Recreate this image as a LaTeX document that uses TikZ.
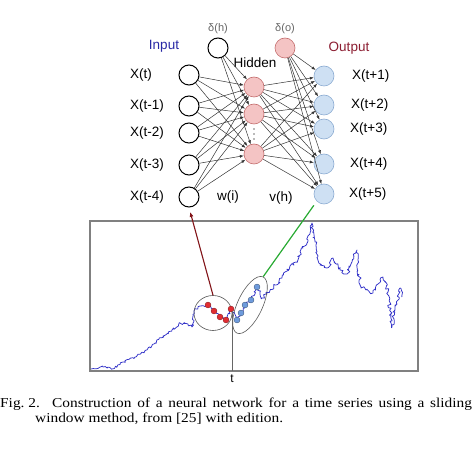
\documentclass[tikz,border=0pt]{standalone}
\usepackage{fontspec}
\setmainfont{Liberation Serif}
\setsansfont{Liberation Sans}
\usepackage{tikz}
\usetikzlibrary{arrows.meta, positioning, shapes.geometric, decorations.pathmorphing}

\definecolor{hidfill}{RGB}{244,196,196}
\definecolor{hiddraw}{RGB}{196,110,110}
\definecolor{outfill}{RGB}{206,224,243}
\definecolor{outdraw}{RGB}{140,172,210}
\definecolor{inblue}{RGB}{40,40,165}
\definecolor{outred}{RGB}{140,30,50}
\definecolor{serieblue}{RGB}{50,50,200}
\definecolor{arrred}{RGB}{130,20,25}
\definecolor{arrgreen}{RGB}{40,170,50}
\definecolor{dotred}{RGB}{225,45,50}
\definecolor{dotblue}{RGB}{110,155,220}

\begin{document}
\begin{tikzpicture}[
  x=1pt, y=-1pt,
  >=Latex,
  neuron/.style={circle, draw=black, line width=1pt, fill=white,
                 minimum size=20pt, inner sep=0pt},
  hid/.style={neuron, fill=hidfill, draw=hiddraw, line width=0.6pt},
  outn/.style={neuron, fill=outfill, draw=outdraw, line width=0.6pt},
  conn/.style={-{Latex[length=4pt,width=3pt]}, draw=black!80, line width=0.5pt},
  lbl/.style={font=\sffamily\fontsize{13.5}{13.5}\selectfont, inner sep=0pt},
  dlbl/.style={font=\sffamily\fontsize{11}{11}\selectfont, text=black!60, inner sep=0pt},
  win/.style={ellipse, draw=black!65, line width=0.6pt, inner sep=0pt},
  dotr/.style={circle, fill=dotred, draw=dotred!55!black, line width=0.3pt,
               minimum size=6pt, inner sep=0pt},
  dotb/.style={circle, fill=dotblue, draw=dotblue!50!black, line width=0.3pt,
               minimum size=6pt, inner sep=0pt},
  serie/.style={draw=serieblue, line width=0.75pt, line join=round, decorate},
  captext/.style={font=\fontsize{13.6}{15}\selectfont, inner sep=0pt},
]
\useasboundingbox (0,0) rectangle (474,454);

%% ── Couche d'entrée ─────────────────────────────────────────────────────
\node[neuron] (in0) at (189,75)  {};
\node[neuron] (in1) at (189,106) {};
\node[neuron] (in2) at (189,133) {};
\node[neuron] (in3) at (189,165) {};
\node[neuron] (in4) at (189,197) {};

\node[lbl, anchor=west] (xin0) at (130,75)  {X(t)};
\node[lbl, anchor=west] (xin1) at (130,106) {X(t-1)};
\node[lbl, anchor=west] (xin2) at (130,133) {X(t-2)};
\node[lbl, anchor=west] (xin3) at (130,165) {X(t-3)};
\node[lbl, anchor=west] (xin4) at (130,197) {X(t-4)};

\node[lbl, text=inblue] (input) at (164,46) {Input};

%% ── Couche cachée ───────────────────────────────────────────────────────
\node[hid] (hid1) at (254,87)  {};
\node[hid] (hid2) at (254,114) {};
\node[hid] (hid3) at (254,154) {};
\foreach \y in {129,134,139}
  \fill[black!55] (254,\y) circle (0.8pt);

\node[lbl] (hidden) at (255,63) {Hidden};

%% ── Biais ───────────────────────────────────────────────────────────────
\node[neuron] (bh) at (218,48) {};
\node[hid]    (bo) at (285,48) {};
\node[dlbl, above=4pt of bh] (dh) {δ(h)};
\node[dlbl, above=4pt of bo] (do) {δ(o)};

%% ── Couche de sortie ────────────────────────────────────────────────────
\node[outn] (out1) at (324,76)  {};
\node[outn] (out2) at (324,105) {};
\node[outn] (out3) at (324,129) {};
\node[outn] (out4) at (324,164) {};
\node[outn] (out5) at (324,194) {};

\node[lbl, anchor=west] (xout1) at (352,76)  {X(t+1)};
\node[lbl, anchor=west] (xout2) at (351,105) {X(t+2)};
\node[lbl, anchor=west] (xout3) at (350,129) {X(t+3)};
\node[lbl, anchor=west] (xout4) at (350,164) {X(t+4)};
\node[lbl, anchor=west] (xout5) at (349,194) {X(t+5)};

\node[lbl, text=outred] (output) at (349,48) {Output};

%% ── Poids ───────────────────────────────────────────────────────────────
\node[lbl] (wi) at (228,197) {w(i)};
\node[lbl] (vh) at (281,198) {v(h)};

%% ── Connexions ──────────────────────────────────────────────────────────
\foreach \j in {1,2,3} {
  \foreach \i in {0,...,4}
    \draw[conn] (in\i) -- (hid\j);
  \draw[conn] (bh) -- (hid\j);
  \foreach \k in {1,...,5}
    \draw[conn] (hid\j) -- (out\k);
}
\foreach \k in {1,...,5}
  \draw[conn] (bo) -- (out\k);

%% ── Série temporelle ────────────────────────────────────────────────────
\draw[draw=black!50, line width=1.3pt] (90,221) rectangle (418,371);

\pgfmathsetseed{11}
\draw[serie, decoration={random steps, segment length=1.6pt, amplitude=1.3pt}]
  (91,369) -- (103,367) -- (112,369) -- (123,362) -- (135,357) -- (147,350)
  -- (155,343) -- (163,336) -- (172,330) -- (180,323) -- (188,324)
  -- (192,327) -- (194,311) -- (200,306) -- (208,305) -- (214,311)
  -- (220,317) -- (226,320) -- (231,309) -- (237,320) -- (241,313)
  -- (245,305) -- (251,300) -- (257,287);
\draw[serie, decoration={random steps, segment length=1.8pt, amplitude=1.8pt}]
  (257,287) -- (262,298) -- (267,294) -- (275,285) -- (282,278)
  -- (290,266) -- (296,262) -- (303,248) -- (307,243) -- (312,223)
  -- (315,242) -- (320,265) -- (327,268) -- (333,258) -- (340,270)
  -- (347,274) -- (352,262) -- (357,250) -- (360,285) -- (366,290)
  -- (373,293) -- (378,284) -- (383,277) -- (388,292) -- (392,327)
  -- (395,310) -- (397,304) -- (400,288) -- (402,297);

%% ── Fenêtres glissantes ─────────────────────────────────────────────────
\node[win, minimum width=38pt, minimum height=35pt] (winA) at (213,313) {};
\node[win, minimum width=62pt, minimum height=25pt, rotate=65] (winB) at (250,305) {};

\node[dotr] (ra1) at (208,305) {};
\node[dotr] (ra2) at (214,311) {};
\node[dotr] (ra3) at (220,317) {};
\node[dotr] (ra4) at (226,320) {};
\node[dotr] (ra5) at (231,309) {};

\node[dotb] (bb1) at (237,320) {};
\node[dotb] (bb2) at (241,313) {};
\node[dotb] (bb3) at (245,305) {};
\node[dotb] (bb4) at (251,300) {};
\node[dotb] (bb5) at (257,287) {};

%% ── Flèches vers le réseau ──────────────────────────────────────────────
\draw[draw=arrred, line width=1.1pt, -{Latex[length=5pt,width=4pt]},
      shorten >=4.5pt] (winA.north) -- (in4.south);
\draw[draw=arrgreen, line width=1.2pt, shorten >=5pt] (winB.east) -- (out5.south west);

%% ── Instant t ───────────────────────────────────────────────────────────
\coordinate (tcut)  at (232,311);
\coordinate (tbase) at (232,371);
\draw[draw=black!60, line width=0.6pt] (tcut) -- (tbase);
\node[font=\sffamily\fontsize{12}{12}\selectfont, inner sep=0pt, below=4pt of tbase] (tlbl) {t};

%% ── Légende ─────────────────────────────────────────────────────────────
\node[captext, anchor=base west] (capfig) at (0,407) {\scalebox{1.13}[1]{Fig.~2.}};
\node[captext, anchor=base west] (capA) at (52,407)
  {\scalebox{1.13}[1]{\makebox[371.5pt][s]{Construction of a neural network for a time series using a sliding}}};
\node[captext, anchor=base west] (capB) at (35,422)
  {\scalebox{1.13}[1]{window method, from [25] with edition.}};

\end{tikzpicture}
\end{document}
